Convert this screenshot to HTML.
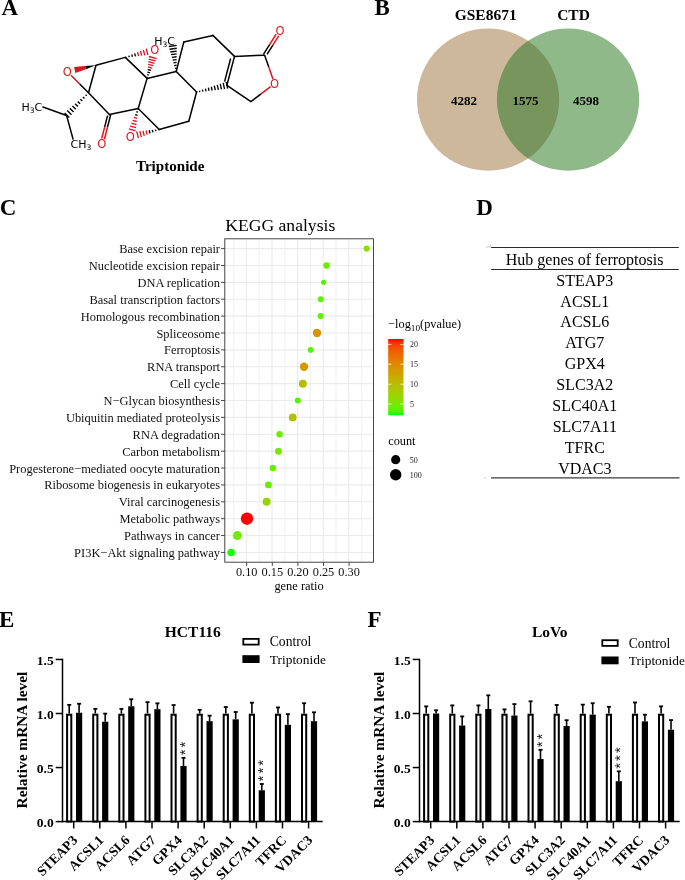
<!DOCTYPE html>
<html><head><meta charset="utf-8"><title>Triptonide ferroptosis figure</title>
<style>html,body{margin:0;padding:0;background:#fff;} svg{display:block;}</style></head>
<body><svg width="685" height="880" viewBox="0 0 685 880">
<rect width="685" height="880" fill="#fff"/>
<text x="1.50" y="15.30" font-size="23" font-weight="bold" text-anchor="start" font-family="'Liberation Serif', 'Times New Roman', serif" fill="#000" >A</text>
<text x="374.60" y="15.30" font-size="23" font-weight="bold" text-anchor="start" font-family="'Liberation Serif', 'Times New Roman', serif" fill="#000" >B</text>
<text x="-0.20" y="214.60" font-size="23" font-weight="bold" text-anchor="start" font-family="'Liberation Serif', 'Times New Roman', serif" fill="#000" >C</text>
<text x="476.30" y="214.60" font-size="23" font-weight="bold" text-anchor="start" font-family="'Liberation Serif', 'Times New Roman', serif" fill="#000" >D</text>
<text x="-0.90" y="626.90" font-size="23" font-weight="bold" text-anchor="start" font-family="'Liberation Serif', 'Times New Roman', serif" fill="#000" >E</text>
<text x="367.60" y="626.90" font-size="23" font-weight="bold" text-anchor="start" font-family="'Liberation Serif', 'Times New Roman', serif" fill="#000" >F</text>
<polygon points="96.00,65.20 85.01,66.08 85.71,69.15" fill="#000"/>
<polygon points="85.01,66.08 74.02,66.97 75.41,73.11 85.71,69.15" fill="#e0141e"/>
<line x1="96.00" y1="65.20" x2="88.50" y2="92.70" stroke="#000" stroke-width="1.5" />
<line x1="70.94" y1="75.23" x2="79.72" y2="83.96" stroke="#e0141e" stroke-width="1.5" stroke-linecap="butt"/>
<line x1="79.72" y1="83.96" x2="88.50" y2="92.70" stroke="#000" stroke-width="1.5" stroke-linecap="butt"/>
<line x1="88.79" y1="92.98" x2="88.21" y2="92.42" stroke="#000" stroke-width="1.35" />
<line x1="86.62" y1="95.69" x2="85.59" y2="94.70" stroke="#000" stroke-width="1.35" />
<line x1="84.46" y1="98.40" x2="82.97" y2="96.97" stroke="#000" stroke-width="1.35" />
<line x1="82.29" y1="101.11" x2="80.34" y2="99.24" stroke="#000" stroke-width="1.35" />
<line x1="80.12" y1="103.83" x2="77.72" y2="101.52" stroke="#000" stroke-width="1.35" />
<line x1="77.96" y1="106.54" x2="75.10" y2="103.79" stroke="#000" stroke-width="1.35" />
<line x1="75.79" y1="109.25" x2="72.47" y2="106.07" stroke="#000" stroke-width="1.35" />
<line x1="73.62" y1="111.97" x2="69.85" y2="108.34" stroke="#000" stroke-width="1.35" />
<line x1="71.46" y1="114.68" x2="67.23" y2="110.61" stroke="#000" stroke-width="1.35" />
<line x1="69.29" y1="117.39" x2="64.60" y2="112.89" stroke="#000" stroke-width="1.35" />
<line x1="66.60" y1="115.50" x2="42.94" y2="107.04" stroke="#000" stroke-width="1.5" stroke-linecap="round"/>
<line x1="66.60" y1="115.50" x2="73.05" y2="139.09" stroke="#000" stroke-width="1.5" stroke-linecap="round"/>
<line x1="88.50" y1="92.70" x2="109.40" y2="114.60" stroke="#000" stroke-width="1.5" stroke-linecap="round"/>
<line x1="109.40" y1="114.60" x2="138.20" y2="108.50" stroke="#000" stroke-width="1.5" stroke-linecap="round"/>
<line x1="110.66" y1="114.92" x2="107.54" y2="127.06" stroke="#000" stroke-width="1.5" stroke-linecap="butt"/>
<line x1="107.54" y1="127.06" x2="104.43" y2="139.20" stroke="#e0141e" stroke-width="1.5" stroke-linecap="butt"/>
<line x1="107.57" y1="115.68" x2="104.64" y2="127.09" stroke="#000" stroke-width="1.5" stroke-linecap="butt"/>
<line x1="104.64" y1="127.09" x2="101.71" y2="138.50" stroke="#e0141e" stroke-width="1.5" stroke-linecap="butt"/>
<line x1="96.00" y1="65.20" x2="125.30" y2="57.40" stroke="#000" stroke-width="1.5" stroke-linecap="round"/>
<line x1="125.97" y1="56.81" x2="126.17" y2="57.59" stroke="#000" stroke-width="1.35" />
<line x1="128.87" y1="55.65" x2="129.27" y2="57.21" stroke="#000" stroke-width="1.35" />
<line x1="131.77" y1="54.48" x2="132.37" y2="56.83" stroke="#000" stroke-width="1.35" />
<line x1="134.66" y1="53.31" x2="135.47" y2="56.45" stroke="#000" stroke-width="1.35" />
<line x1="137.56" y1="52.15" x2="138.57" y2="56.08" stroke="#e0141e" stroke-width="1.35" />
<line x1="140.45" y1="50.98" x2="141.67" y2="55.70" stroke="#e0141e" stroke-width="1.35" />
<line x1="143.35" y1="49.81" x2="144.77" y2="55.32" stroke="#e0141e" stroke-width="1.35" />
<line x1="146.24" y1="48.65" x2="147.86" y2="54.94" stroke="#e0141e" stroke-width="1.35" />
<line x1="125.30" y1="57.40" x2="147.10" y2="78.40" stroke="#000" stroke-width="1.5" stroke-linecap="round"/>
<line x1="146.97" y1="77.33" x2="147.75" y2="77.54" stroke="#000" stroke-width="1.35" />
<line x1="147.21" y1="74.72" x2="148.85" y2="75.17" stroke="#000" stroke-width="1.35" />
<line x1="147.44" y1="72.12" x2="149.96" y2="72.79" stroke="#000" stroke-width="1.35" />
<line x1="147.68" y1="69.51" x2="151.06" y2="70.42" stroke="#000" stroke-width="1.35" />
<line x1="147.92" y1="66.91" x2="152.16" y2="68.05" stroke="#e0141e" stroke-width="1.35" />
<line x1="148.15" y1="64.30" x2="153.27" y2="65.68" stroke="#e0141e" stroke-width="1.35" />
<line x1="148.39" y1="61.70" x2="154.37" y2="63.31" stroke="#e0141e" stroke-width="1.35" />
<line x1="148.62" y1="59.09" x2="155.48" y2="60.94" stroke="#e0141e" stroke-width="1.35" />
<line x1="148.86" y1="56.49" x2="156.58" y2="58.56" stroke="#e0141e" stroke-width="1.35" />
<line x1="147.10" y1="78.40" x2="176.20" y2="71.50" stroke="#000" stroke-width="1.5" stroke-linecap="round"/>
<line x1="147.10" y1="78.40" x2="138.20" y2="108.50" stroke="#000" stroke-width="1.5" stroke-linecap="round"/>
<line x1="175.74" y1="71.06" x2="176.53" y2="70.95" stroke="#000" stroke-width="1.35" />
<line x1="174.97" y1="68.33" x2="176.55" y2="68.12" stroke="#000" stroke-width="1.35" />
<line x1="174.20" y1="65.60" x2="176.57" y2="65.28" stroke="#000" stroke-width="1.35" />
<line x1="173.43" y1="62.88" x2="176.60" y2="62.45" stroke="#000" stroke-width="1.35" />
<line x1="172.65" y1="60.15" x2="176.62" y2="59.62" stroke="#000" stroke-width="1.35" />
<line x1="171.88" y1="57.42" x2="176.64" y2="56.78" stroke="#000" stroke-width="1.35" />
<line x1="171.11" y1="54.70" x2="176.66" y2="53.95" stroke="#000" stroke-width="1.35" />
<line x1="170.34" y1="51.97" x2="176.69" y2="51.12" stroke="#000" stroke-width="1.35" />
<line x1="169.57" y1="49.24" x2="176.71" y2="48.28" stroke="#000" stroke-width="1.35" />
<line x1="168.80" y1="46.52" x2="176.73" y2="45.45" stroke="#000" stroke-width="1.35" />
<line x1="176.20" y1="71.50" x2="183.80" y2="42.00" stroke="#000" stroke-width="1.5" stroke-linecap="round"/>
<line x1="176.20" y1="71.50" x2="196.60" y2="92.00" stroke="#000" stroke-width="1.5" stroke-linecap="round"/>
<line x1="183.80" y1="42.00" x2="212.90" y2="35.40" stroke="#000" stroke-width="1.5" stroke-linecap="round"/>
<line x1="212.90" y1="35.40" x2="234.50" y2="56.40" stroke="#000" stroke-width="1.5" stroke-linecap="round"/>
<line x1="234.50" y1="56.40" x2="226.90" y2="85.30" stroke="#000" stroke-width="1.5" stroke-linecap="round"/>
<line x1="230.64" y1="58.49" x2="224.57" y2="81.58" stroke="#000" stroke-width="1.5" />
<line x1="234.50" y1="56.40" x2="264.60" y2="55.20" stroke="#000" stroke-width="1.5" stroke-linecap="round"/>
<line x1="263.41" y1="54.45" x2="269.78" y2="44.32" stroke="#000" stroke-width="1.5" stroke-linecap="butt"/>
<line x1="269.78" y1="44.32" x2="276.15" y2="34.19" stroke="#e0141e" stroke-width="1.5" stroke-linecap="butt"/>
<line x1="267.02" y1="54.36" x2="272.86" y2="45.07" stroke="#000" stroke-width="1.5" stroke-linecap="butt"/>
<line x1="272.86" y1="45.07" x2="278.69" y2="35.78" stroke="#e0141e" stroke-width="1.5" stroke-linecap="butt"/>
<line x1="264.60" y1="55.20" x2="268.77" y2="67.04" stroke="#000" stroke-width="1.5" stroke-linecap="butt"/>
<line x1="268.77" y1="67.04" x2="272.94" y2="78.88" stroke="#e0141e" stroke-width="1.5" stroke-linecap="butt"/>
<line x1="270.62" y1="86.62" x2="260.76" y2="94.11" stroke="#e0141e" stroke-width="1.5" stroke-linecap="butt"/>
<line x1="260.76" y1="94.11" x2="250.90" y2="101.60" stroke="#000" stroke-width="1.5" stroke-linecap="butt"/>
<line x1="250.90" y1="101.60" x2="226.90" y2="85.30" stroke="#000" stroke-width="1.5" stroke-linecap="round"/>
<line x1="196.51" y1="91.61" x2="196.69" y2="92.39" stroke="#000" stroke-width="1.35" />
<line x1="199.48" y1="90.64" x2="199.78" y2="92.02" stroke="#000" stroke-width="1.35" />
<line x1="202.44" y1="89.66" x2="202.88" y2="91.66" stroke="#000" stroke-width="1.35" />
<line x1="205.40" y1="88.69" x2="205.98" y2="91.29" stroke="#000" stroke-width="1.35" />
<line x1="208.37" y1="87.72" x2="209.07" y2="90.92" stroke="#000" stroke-width="1.35" />
<line x1="211.33" y1="86.75" x2="212.17" y2="90.55" stroke="#000" stroke-width="1.35" />
<line x1="214.29" y1="85.77" x2="215.27" y2="90.19" stroke="#000" stroke-width="1.35" />
<line x1="217.26" y1="84.80" x2="218.36" y2="89.82" stroke="#000" stroke-width="1.35" />
<line x1="220.22" y1="83.83" x2="221.46" y2="89.45" stroke="#000" stroke-width="1.35" />
<line x1="223.18" y1="82.86" x2="224.56" y2="89.08" stroke="#000" stroke-width="1.35" />
<line x1="226.14" y1="81.88" x2="227.66" y2="88.72" stroke="#000" stroke-width="1.35" />
<line x1="196.60" y1="92.00" x2="188.80" y2="121.30" stroke="#000" stroke-width="1.5" stroke-linecap="round"/>
<line x1="188.80" y1="121.30" x2="159.20" y2="129.50" stroke="#000" stroke-width="1.5" stroke-linecap="round"/>
<line x1="159.20" y1="129.50" x2="138.20" y2="108.50" stroke="#000" stroke-width="1.5" stroke-linecap="round"/>
<line x1="138.45" y1="109.09" x2="137.68" y2="108.87" stroke="#000" stroke-width="1.35" />
<line x1="138.04" y1="112.19" x2="136.41" y2="111.74" stroke="#000" stroke-width="1.35" />
<line x1="137.63" y1="115.30" x2="135.15" y2="114.60" stroke="#000" stroke-width="1.35" />
<line x1="137.21" y1="118.40" x2="133.88" y2="117.46" stroke="#e0141e" stroke-width="1.35" />
<line x1="136.80" y1="121.50" x2="132.62" y2="120.33" stroke="#e0141e" stroke-width="1.35" />
<line x1="136.39" y1="124.60" x2="131.35" y2="123.19" stroke="#e0141e" stroke-width="1.35" />
<line x1="135.98" y1="127.71" x2="130.09" y2="126.05" stroke="#e0141e" stroke-width="1.35" />
<line x1="135.56" y1="130.81" x2="128.83" y2="128.91" stroke="#e0141e" stroke-width="1.35" />
<line x1="158.81" y1="130.01" x2="158.62" y2="129.23" stroke="#000" stroke-width="1.35" />
<line x1="155.90" y1="131.18" x2="155.49" y2="129.54" stroke="#000" stroke-width="1.35" />
<line x1="152.98" y1="132.35" x2="152.37" y2="129.85" stroke="#000" stroke-width="1.35" />
<line x1="150.07" y1="133.52" x2="149.25" y2="130.17" stroke="#000" stroke-width="1.35" />
<line x1="147.16" y1="134.69" x2="146.12" y2="130.48" stroke="#e0141e" stroke-width="1.35" />
<line x1="144.24" y1="135.87" x2="143.00" y2="130.79" stroke="#e0141e" stroke-width="1.35" />
<line x1="141.33" y1="137.04" x2="139.87" y2="131.10" stroke="#e0141e" stroke-width="1.35" />
<line x1="138.42" y1="138.21" x2="136.75" y2="131.41" stroke="#e0141e" stroke-width="1.35" />
<text x="67.40" y="75.60" font-size="11.5" font-weight="normal" text-anchor="middle" font-family="'DejaVu Sans', 'Liberation Sans', sans-serif" fill="#e0141e" >O</text>
<text x="154.80" y="53.70" font-size="11.5" font-weight="normal" text-anchor="middle" font-family="'DejaVu Sans', 'Liberation Sans', sans-serif" fill="#e0141e" >O</text>
<text x="130.30" y="140.50" font-size="11.5" font-weight="normal" text-anchor="middle" font-family="'DejaVu Sans', 'Liberation Sans', sans-serif" fill="#e0141e" >O</text>
<text x="101.80" y="148.10" font-size="11.5" font-weight="normal" text-anchor="middle" font-family="'DejaVu Sans', 'Liberation Sans', sans-serif" fill="#e0141e" >O</text>
<text x="280.00" y="34.60" font-size="11.5" font-weight="normal" text-anchor="middle" font-family="'DejaVu Sans', 'Liberation Sans', sans-serif" fill="#e0141e" >O</text>
<text x="274.60" y="87.50" font-size="11.5" font-weight="normal" text-anchor="middle" font-family="'DejaVu Sans', 'Liberation Sans', sans-serif" fill="#e0141e" >O</text>
<text x="42.30" y="110.50" font-size="11" font-weight="normal" text-anchor="end" font-family="'DejaVu Sans', 'Liberation Sans', sans-serif" fill="#000" >H<tspan font-size="7.5" dy="2">3</tspan><tspan dy="-2">C</tspan></text>
<text x="70.50" y="148.30" font-size="11" font-weight="normal" text-anchor="start" font-family="'DejaVu Sans', 'Liberation Sans', sans-serif" fill="#000" >CH<tspan font-size="7.5" dy="2">3</tspan></text>
<text x="175.00" y="44.70" font-size="11" font-weight="normal" text-anchor="end" font-family="'DejaVu Sans', 'Liberation Sans', sans-serif" fill="#000" >H<tspan font-size="7.5" dy="2">3</tspan><tspan dy="-2">C</tspan></text>
<text x="170.20" y="170.80" font-size="15.1" font-weight="bold" text-anchor="middle" font-family="'Liberation Serif', 'Times New Roman', serif" fill="#000" >Triptonide</text>
<defs><clipPath id="vl"><circle cx="488.1" cy="99.6" r="71.1"/></clipPath><linearGradient id="cg" x1="0" y1="1" x2="0" y2="0"><stop offset="0.000" stop-color="#00ff00"/><stop offset="0.050" stop-color="#49f700"/><stop offset="0.100" stop-color="#65ef00"/><stop offset="0.150" stop-color="#7ae700"/><stop offset="0.200" stop-color="#8adf00"/><stop offset="0.250" stop-color="#98d700"/><stop offset="0.300" stop-color="#a4ce00"/><stop offset="0.350" stop-color="#aec600"/><stop offset="0.400" stop-color="#b8bd00"/><stop offset="0.450" stop-color="#c1b400"/><stop offset="0.500" stop-color="#c9ab00"/><stop offset="0.550" stop-color="#d0a100"/><stop offset="0.600" stop-color="#d79800"/><stop offset="0.650" stop-color="#dd8d00"/><stop offset="0.700" stop-color="#e38200"/><stop offset="0.750" stop-color="#e87600"/><stop offset="0.800" stop-color="#ed6a00"/><stop offset="0.850" stop-color="#f25b00"/><stop offset="0.900" stop-color="#f74a00"/><stop offset="0.950" stop-color="#fb3300"/><stop offset="1.000" stop-color="#ff0000"/></linearGradient></defs>
<circle cx="488.1" cy="99.6" r="71.1" fill="#cdb89c"/>
<circle cx="568.1" cy="99.6" r="71.1" fill="#8fb988"/>
<circle cx="568.1" cy="99.6" r="71.1" fill="#78955d" clip-path="url(#vl)"/>
<text x="485.70" y="20.20" font-size="15.5" font-weight="bold" text-anchor="middle" font-family="'Liberation Serif', 'Times New Roman', serif" fill="#000" >GSE8671</text>
<text x="573.50" y="20.10" font-size="15.5" font-weight="bold" text-anchor="middle" font-family="'Liberation Serif', 'Times New Roman', serif" fill="#000" >CTD</text>
<text x="463.90" y="104.80" font-size="13" font-weight="bold" text-anchor="middle" font-family="'Liberation Serif', 'Times New Roman', serif" fill="#000" >4282</text>
<text x="525.40" y="104.80" font-size="13" font-weight="bold" text-anchor="middle" font-family="'Liberation Serif', 'Times New Roman', serif" fill="#000" >1575</text>
<text x="586.00" y="104.80" font-size="13" font-weight="bold" text-anchor="middle" font-family="'Liberation Serif', 'Times New Roman', serif" fill="#000" >4598</text>
<rect x="224.8" y="238.8" width="148.7" height="323.40000000000003" fill="#fff"/>
<line x1="233.60" y1="238.80" x2="233.60" y2="562.20" stroke="#ebebeb" stroke-width="0.8" />
<line x1="246.40" y1="238.80" x2="246.40" y2="562.20" stroke="#ebebeb" stroke-width="1.1" />
<line x1="259.20" y1="238.80" x2="259.20" y2="562.20" stroke="#ebebeb" stroke-width="0.8" />
<line x1="272.00" y1="238.80" x2="272.00" y2="562.20" stroke="#ebebeb" stroke-width="1.1" />
<line x1="284.80" y1="238.80" x2="284.80" y2="562.20" stroke="#ebebeb" stroke-width="0.8" />
<line x1="297.60" y1="238.80" x2="297.60" y2="562.20" stroke="#ebebeb" stroke-width="1.1" />
<line x1="310.40" y1="238.80" x2="310.40" y2="562.20" stroke="#ebebeb" stroke-width="0.8" />
<line x1="323.20" y1="238.80" x2="323.20" y2="562.20" stroke="#ebebeb" stroke-width="1.1" />
<line x1="336.00" y1="238.80" x2="336.00" y2="562.20" stroke="#ebebeb" stroke-width="0.8" />
<line x1="348.80" y1="238.80" x2="348.80" y2="562.20" stroke="#ebebeb" stroke-width="1.1" />
<line x1="361.60" y1="238.80" x2="361.60" y2="562.20" stroke="#ebebeb" stroke-width="0.8" />
<line x1="224.80" y1="248.60" x2="373.50" y2="248.60" stroke="#ebebeb" stroke-width="1.1" />
<line x1="224.80" y1="265.48" x2="373.50" y2="265.48" stroke="#ebebeb" stroke-width="1.1" />
<line x1="224.80" y1="282.36" x2="373.50" y2="282.36" stroke="#ebebeb" stroke-width="1.1" />
<line x1="224.80" y1="299.24" x2="373.50" y2="299.24" stroke="#ebebeb" stroke-width="1.1" />
<line x1="224.80" y1="316.12" x2="373.50" y2="316.12" stroke="#ebebeb" stroke-width="1.1" />
<line x1="224.80" y1="333.00" x2="373.50" y2="333.00" stroke="#ebebeb" stroke-width="1.1" />
<line x1="224.80" y1="349.88" x2="373.50" y2="349.88" stroke="#ebebeb" stroke-width="1.1" />
<line x1="224.80" y1="366.76" x2="373.50" y2="366.76" stroke="#ebebeb" stroke-width="1.1" />
<line x1="224.80" y1="383.64" x2="373.50" y2="383.64" stroke="#ebebeb" stroke-width="1.1" />
<line x1="224.80" y1="400.52" x2="373.50" y2="400.52" stroke="#ebebeb" stroke-width="1.1" />
<line x1="224.80" y1="417.40" x2="373.50" y2="417.40" stroke="#ebebeb" stroke-width="1.1" />
<line x1="224.80" y1="434.28" x2="373.50" y2="434.28" stroke="#ebebeb" stroke-width="1.1" />
<line x1="224.80" y1="451.16" x2="373.50" y2="451.16" stroke="#ebebeb" stroke-width="1.1" />
<line x1="224.80" y1="468.04" x2="373.50" y2="468.04" stroke="#ebebeb" stroke-width="1.1" />
<line x1="224.80" y1="484.92" x2="373.50" y2="484.92" stroke="#ebebeb" stroke-width="1.1" />
<line x1="224.80" y1="501.80" x2="373.50" y2="501.80" stroke="#ebebeb" stroke-width="1.1" />
<line x1="224.80" y1="518.68" x2="373.50" y2="518.68" stroke="#ebebeb" stroke-width="1.1" />
<line x1="224.80" y1="535.56" x2="373.50" y2="535.56" stroke="#ebebeb" stroke-width="1.1" />
<line x1="224.80" y1="552.44" x2="373.50" y2="552.44" stroke="#ebebeb" stroke-width="1.1" />
<rect x="224.8" y="238.8" width="148.7" height="323.40000000000003" fill="none" stroke="#333" stroke-width="0.9"/>
<line x1="221.00" y1="248.60" x2="224.80" y2="248.60" stroke="#333" stroke-width="0.9" />
<text x="220.00" y="253.10" font-size="12.45" font-weight="normal" text-anchor="end" font-family="'Liberation Serif', 'Times New Roman', serif" fill="#111" >Base excision repair</text>
<line x1="221.00" y1="265.48" x2="224.80" y2="265.48" stroke="#333" stroke-width="0.9" />
<text x="220.00" y="269.98" font-size="12.45" font-weight="normal" text-anchor="end" font-family="'Liberation Serif', 'Times New Roman', serif" fill="#111" >Nucleotide excision repair</text>
<line x1="221.00" y1="282.36" x2="224.80" y2="282.36" stroke="#333" stroke-width="0.9" />
<text x="220.00" y="286.86" font-size="12.45" font-weight="normal" text-anchor="end" font-family="'Liberation Serif', 'Times New Roman', serif" fill="#111" >DNA replication</text>
<line x1="221.00" y1="299.24" x2="224.80" y2="299.24" stroke="#333" stroke-width="0.9" />
<text x="220.00" y="303.74" font-size="12.45" font-weight="normal" text-anchor="end" font-family="'Liberation Serif', 'Times New Roman', serif" fill="#111" >Basal transcription factors</text>
<line x1="221.00" y1="316.12" x2="224.80" y2="316.12" stroke="#333" stroke-width="0.9" />
<text x="220.00" y="320.62" font-size="12.45" font-weight="normal" text-anchor="end" font-family="'Liberation Serif', 'Times New Roman', serif" fill="#111" >Homologous recombination</text>
<line x1="221.00" y1="333.00" x2="224.80" y2="333.00" stroke="#333" stroke-width="0.9" />
<text x="220.00" y="337.50" font-size="12.45" font-weight="normal" text-anchor="end" font-family="'Liberation Serif', 'Times New Roman', serif" fill="#111" >Spliceosome</text>
<line x1="221.00" y1="349.88" x2="224.80" y2="349.88" stroke="#333" stroke-width="0.9" />
<text x="220.00" y="354.38" font-size="12.45" font-weight="normal" text-anchor="end" font-family="'Liberation Serif', 'Times New Roman', serif" fill="#111" >Ferroptosis</text>
<line x1="221.00" y1="366.76" x2="224.80" y2="366.76" stroke="#333" stroke-width="0.9" />
<text x="220.00" y="371.26" font-size="12.45" font-weight="normal" text-anchor="end" font-family="'Liberation Serif', 'Times New Roman', serif" fill="#111" >RNA transport</text>
<line x1="221.00" y1="383.64" x2="224.80" y2="383.64" stroke="#333" stroke-width="0.9" />
<text x="220.00" y="388.14" font-size="12.45" font-weight="normal" text-anchor="end" font-family="'Liberation Serif', 'Times New Roman', serif" fill="#111" >Cell cycle</text>
<line x1="221.00" y1="400.52" x2="224.80" y2="400.52" stroke="#333" stroke-width="0.9" />
<text x="220.00" y="405.02" font-size="12.45" font-weight="normal" text-anchor="end" font-family="'Liberation Serif', 'Times New Roman', serif" fill="#111" >N−Glycan biosynthesis</text>
<line x1="221.00" y1="417.40" x2="224.80" y2="417.40" stroke="#333" stroke-width="0.9" />
<text x="220.00" y="421.90" font-size="12.45" font-weight="normal" text-anchor="end" font-family="'Liberation Serif', 'Times New Roman', serif" fill="#111" >Ubiquitin mediated proteolysis</text>
<line x1="221.00" y1="434.28" x2="224.80" y2="434.28" stroke="#333" stroke-width="0.9" />
<text x="220.00" y="438.78" font-size="12.45" font-weight="normal" text-anchor="end" font-family="'Liberation Serif', 'Times New Roman', serif" fill="#111" >RNA degradation</text>
<line x1="221.00" y1="451.16" x2="224.80" y2="451.16" stroke="#333" stroke-width="0.9" />
<text x="220.00" y="455.66" font-size="12.45" font-weight="normal" text-anchor="end" font-family="'Liberation Serif', 'Times New Roman', serif" fill="#111" >Carbon metabolism</text>
<line x1="221.00" y1="468.04" x2="224.80" y2="468.04" stroke="#333" stroke-width="0.9" />
<text x="220.00" y="472.54" font-size="12.45" font-weight="normal" text-anchor="end" font-family="'Liberation Serif', 'Times New Roman', serif" fill="#111" >Progesterone−mediated oocyte maturation</text>
<line x1="221.00" y1="484.92" x2="224.80" y2="484.92" stroke="#333" stroke-width="0.9" />
<text x="220.00" y="489.42" font-size="12.45" font-weight="normal" text-anchor="end" font-family="'Liberation Serif', 'Times New Roman', serif" fill="#111" >Ribosome biogenesis in eukaryotes</text>
<line x1="221.00" y1="501.80" x2="224.80" y2="501.80" stroke="#333" stroke-width="0.9" />
<text x="220.00" y="506.30" font-size="12.45" font-weight="normal" text-anchor="end" font-family="'Liberation Serif', 'Times New Roman', serif" fill="#111" >Viral carcinogenesis</text>
<line x1="221.00" y1="518.68" x2="224.80" y2="518.68" stroke="#333" stroke-width="0.9" />
<text x="220.00" y="523.18" font-size="12.45" font-weight="normal" text-anchor="end" font-family="'Liberation Serif', 'Times New Roman', serif" fill="#111" >Metabolic pathways</text>
<line x1="221.00" y1="535.56" x2="224.80" y2="535.56" stroke="#333" stroke-width="0.9" />
<text x="220.00" y="540.06" font-size="12.45" font-weight="normal" text-anchor="end" font-family="'Liberation Serif', 'Times New Roman', serif" fill="#111" >Pathways in cancer</text>
<line x1="221.00" y1="552.44" x2="224.80" y2="552.44" stroke="#333" stroke-width="0.9" />
<text x="220.00" y="556.94" font-size="12.45" font-weight="normal" text-anchor="end" font-family="'Liberation Serif', 'Times New Roman', serif" fill="#111" >PI3K−Akt signaling pathway</text>
<circle cx="366.7" cy="248.60" r="3.1" fill="#8adf00"/>
<circle cx="326.6" cy="265.48" r="3.3" fill="#6fec00"/>
<circle cx="323.6" cy="282.36" r="2.6" fill="#56f400"/>
<circle cx="320.8" cy="299.24" r="3.0" fill="#5ef100"/>
<circle cx="320.6" cy="316.12" r="3.0" fill="#56f400"/>
<circle cx="317.0" cy="333.00" r="4.2" fill="#d99400"/>
<circle cx="310.6" cy="349.88" r="2.8" fill="#50f600"/>
<circle cx="304.0" cy="366.76" r="4.2" fill="#d59900"/>
<circle cx="302.9" cy="383.64" r="4.0" fill="#b9bc00"/>
<circle cx="297.8" cy="400.52" r="3.0" fill="#50f600"/>
<circle cx="292.7" cy="417.40" r="3.9" fill="#b5c000"/>
<circle cx="279.6" cy="434.28" r="3.2" fill="#6bed00"/>
<circle cx="278.5" cy="451.16" r="3.5" fill="#79e700"/>
<circle cx="272.9" cy="468.04" r="3.2" fill="#64f000"/>
<circle cx="268.4" cy="484.92" r="3.4" fill="#64f000"/>
<circle cx="266.6" cy="501.80" r="4.0" fill="#98d600"/>
<circle cx="247.0" cy="518.68" r="6.2" fill="#ff0000"/>
<circle cx="237.4" cy="535.56" r="4.5" fill="#73ea00"/>
<circle cx="231.1" cy="552.44" r="3.8" fill="#1afe00"/>
<line x1="246.70" y1="562.20" x2="246.70" y2="566.00" stroke="#333" stroke-width="0.9" />
<text x="246.70" y="575.60" font-size="12.3" font-weight="normal" text-anchor="middle" font-family="'Liberation Serif', 'Times New Roman', serif" fill="#111" >0.10</text>
<line x1="272.30" y1="562.20" x2="272.30" y2="566.00" stroke="#333" stroke-width="0.9" />
<text x="272.30" y="575.60" font-size="12.3" font-weight="normal" text-anchor="middle" font-family="'Liberation Serif', 'Times New Roman', serif" fill="#111" >0.15</text>
<line x1="297.90" y1="562.20" x2="297.90" y2="566.00" stroke="#333" stroke-width="0.9" />
<text x="297.90" y="575.60" font-size="12.3" font-weight="normal" text-anchor="middle" font-family="'Liberation Serif', 'Times New Roman', serif" fill="#111" >0.20</text>
<line x1="323.50" y1="562.20" x2="323.50" y2="566.00" stroke="#333" stroke-width="0.9" />
<text x="323.50" y="575.60" font-size="12.3" font-weight="normal" text-anchor="middle" font-family="'Liberation Serif', 'Times New Roman', serif" fill="#111" >0.25</text>
<line x1="349.10" y1="562.20" x2="349.10" y2="566.00" stroke="#333" stroke-width="0.9" />
<text x="349.10" y="575.60" font-size="12.3" font-weight="normal" text-anchor="middle" font-family="'Liberation Serif', 'Times New Roman', serif" fill="#111" >0.30</text>
<text x="299.00" y="589.60" font-size="12.4" font-weight="normal" text-anchor="middle" font-family="'Liberation Serif', 'Times New Roman', serif" fill="#000" >gene ratio</text>
<text x="225.30" y="230.70" font-size="17.6" font-weight="normal" text-anchor="start" font-family="'Liberation Serif', 'Times New Roman', serif" fill="#000" >KEGG analysis</text>
<text x="388.20" y="328.40" font-size="12.3" font-weight="normal" text-anchor="start" font-family="'Liberation Serif', 'Times New Roman', serif" fill="#000" >−log<tspan font-size="9.2" dy="2.6">10</tspan><tspan dy="-2.6">(pvalue)</tspan></text>
<rect x="388.2" y="339" width="15.3" height="76.3" fill="url(#cg)"/>
<line x1="388.20" y1="344.40" x2="391.30" y2="344.40" stroke="#fff" stroke-width="0.8" />
<line x1="400.40" y1="344.40" x2="403.50" y2="344.40" stroke="#fff" stroke-width="0.8" />
<text x="410.00" y="347.20" font-size="8" font-weight="normal" text-anchor="start" font-family="'Liberation Serif', 'Times New Roman', serif" fill="#1a1a1a" >20</text>
<line x1="388.20" y1="364.20" x2="391.30" y2="364.20" stroke="#fff" stroke-width="0.8" />
<line x1="400.40" y1="364.20" x2="403.50" y2="364.20" stroke="#fff" stroke-width="0.8" />
<text x="410.00" y="367.00" font-size="8" font-weight="normal" text-anchor="start" font-family="'Liberation Serif', 'Times New Roman', serif" fill="#1a1a1a" >15</text>
<line x1="388.20" y1="384.20" x2="391.30" y2="384.20" stroke="#fff" stroke-width="0.8" />
<line x1="400.40" y1="384.20" x2="403.50" y2="384.20" stroke="#fff" stroke-width="0.8" />
<text x="410.00" y="387.00" font-size="8" font-weight="normal" text-anchor="start" font-family="'Liberation Serif', 'Times New Roman', serif" fill="#1a1a1a" >10</text>
<line x1="388.20" y1="404.00" x2="391.30" y2="404.00" stroke="#fff" stroke-width="0.8" />
<line x1="400.40" y1="404.00" x2="403.50" y2="404.00" stroke="#fff" stroke-width="0.8" />
<text x="410.00" y="406.80" font-size="8" font-weight="normal" text-anchor="start" font-family="'Liberation Serif', 'Times New Roman', serif" fill="#1a1a1a" >5</text>
<text x="388.20" y="444.80" font-size="12.3" font-weight="normal" text-anchor="start" font-family="'Liberation Serif', 'Times New Roman', serif" fill="#000" >count</text>
<circle cx="395.7" cy="459.7" r="4.6" fill="#000"/>
<circle cx="395.7" cy="474.8" r="5.7" fill="#000"/>
<text x="409.70" y="462.50" font-size="8" font-weight="normal" text-anchor="start" font-family="'Liberation Serif', 'Times New Roman', serif" fill="#1a1a1a" >50</text>
<text x="409.70" y="477.60" font-size="8" font-weight="normal" text-anchor="start" font-family="'Liberation Serif', 'Times New Roman', serif" fill="#1a1a1a" >100</text>
<line x1="491.10" y1="247.50" x2="678.80" y2="247.50" stroke="#2a2a2a" stroke-width="1.0" />
<line x1="486.00" y1="246.90" x2="490.40" y2="246.90" stroke="#b0b0b0" stroke-width="0.7" />
<line x1="490.30" y1="244.60" x2="490.30" y2="247.20" stroke="#b0b0b0" stroke-width="0.7" />
<text x="584.60" y="265.30" font-size="16" font-weight="normal" text-anchor="middle" font-family="'Liberation Serif', 'Times New Roman', serif" fill="#000" >Hub genes of ferroptosis</text>
<line x1="491.10" y1="269.50" x2="678.80" y2="269.50" stroke="#2a2a2a" stroke-width="1.0" />
<text x="584.80" y="285.70" font-size="16" font-weight="normal" text-anchor="middle" font-family="'Liberation Serif', 'Times New Roman', serif" fill="#000" >STEAP3</text>
<text x="584.80" y="306.57" font-size="16" font-weight="normal" text-anchor="middle" font-family="'Liberation Serif', 'Times New Roman', serif" fill="#000" >ACSL1</text>
<text x="584.80" y="327.44" font-size="16" font-weight="normal" text-anchor="middle" font-family="'Liberation Serif', 'Times New Roman', serif" fill="#000" >ACSL6</text>
<text x="584.80" y="348.31" font-size="16" font-weight="normal" text-anchor="middle" font-family="'Liberation Serif', 'Times New Roman', serif" fill="#000" >ATG7</text>
<text x="584.80" y="369.18" font-size="16" font-weight="normal" text-anchor="middle" font-family="'Liberation Serif', 'Times New Roman', serif" fill="#000" >GPX4</text>
<text x="584.80" y="390.05" font-size="16" font-weight="normal" text-anchor="middle" font-family="'Liberation Serif', 'Times New Roman', serif" fill="#000" >SLC3A2</text>
<text x="584.80" y="410.92" font-size="16" font-weight="normal" text-anchor="middle" font-family="'Liberation Serif', 'Times New Roman', serif" fill="#000" >SLC40A1</text>
<text x="584.80" y="431.79" font-size="16" font-weight="normal" text-anchor="middle" font-family="'Liberation Serif', 'Times New Roman', serif" fill="#000" >SLC7A11</text>
<text x="584.80" y="452.66" font-size="16" font-weight="normal" text-anchor="middle" font-family="'Liberation Serif', 'Times New Roman', serif" fill="#000" >TFRC</text>
<text x="584.80" y="473.53" font-size="16" font-weight="normal" text-anchor="middle" font-family="'Liberation Serif', 'Times New Roman', serif" fill="#000" >VDAC3</text>
<line x1="491.10" y1="477.90" x2="679.50" y2="477.90" stroke="#3a3a3a" stroke-width="1.3" />
<rect x="484.3" y="477.2" width="1.4" height="1.4" fill="#c8c8c8"/>
<line x1="62.50" y1="658.75" x2="62.50" y2="822.30" stroke="#000" stroke-width="1.5" />
<line x1="55.70" y1="821.60" x2="62.50" y2="821.60" stroke="#000" stroke-width="1.5" />
<text x="53.70" y="826.80" font-size="13.5" font-weight="bold" text-anchor="end" font-family="'Liberation Serif', 'Times New Roman', serif" fill="#000" >0.0</text>
<line x1="55.70" y1="767.55" x2="62.50" y2="767.55" stroke="#000" stroke-width="1.5" />
<text x="53.70" y="772.75" font-size="13.5" font-weight="bold" text-anchor="end" font-family="'Liberation Serif', 'Times New Roman', serif" fill="#000" >0.5</text>
<line x1="55.70" y1="713.50" x2="62.50" y2="713.50" stroke="#000" stroke-width="1.5" />
<text x="53.70" y="718.70" font-size="13.5" font-weight="bold" text-anchor="end" font-family="'Liberation Serif', 'Times New Roman', serif" fill="#000" >1.0</text>
<line x1="55.70" y1="659.45" x2="62.50" y2="659.45" stroke="#000" stroke-width="1.5" />
<text x="53.70" y="664.65" font-size="13.5" font-weight="bold" text-anchor="end" font-family="'Liberation Serif', 'Times New Roman', serif" fill="#000" >1.5</text>
<text x="0.00" y="0.00" font-size="15.4" font-weight="bold" text-anchor="middle" font-family="'Liberation Serif', 'Times New Roman', serif" fill="#000" transform="translate(27.40,740.00) rotate(-90)">Relative mRNA level</text>
<line x1="69.20" y1="704.85" x2="69.20" y2="713.50" stroke="#000" stroke-width="1.6" />
<line x1="67.20" y1="704.85" x2="71.20" y2="704.85" stroke="#000" stroke-width="1.8" />
<rect x="67.10" y="714.70" width="4.20" height="106.90" fill="#fff" stroke="#000" stroke-width="2.0"/>
<line x1="79.10" y1="703.77" x2="79.10" y2="712.74" stroke="#000" stroke-width="1.6" />
<line x1="77.10" y1="703.77" x2="81.10" y2="703.77" stroke="#000" stroke-width="1.8" />
<rect x="76.00" y="712.74" width="6.20" height="108.86" fill="#000"/>
<line x1="73.70" y1="821.60" x2="73.70" y2="828.40" stroke="#000" stroke-width="1.5" />
<line x1="95.30" y1="708.85" x2="95.30" y2="713.50" stroke="#000" stroke-width="1.6" />
<line x1="93.30" y1="708.85" x2="97.30" y2="708.85" stroke="#000" stroke-width="1.8" />
<rect x="93.20" y="714.70" width="4.20" height="106.90" fill="#fff" stroke="#000" stroke-width="2.0"/>
<line x1="105.20" y1="713.61" x2="105.20" y2="721.72" stroke="#000" stroke-width="1.6" />
<line x1="103.20" y1="713.61" x2="107.20" y2="713.61" stroke="#000" stroke-width="1.8" />
<rect x="102.10" y="721.72" width="6.20" height="99.88" fill="#000"/>
<line x1="99.80" y1="821.60" x2="99.80" y2="828.40" stroke="#000" stroke-width="1.5" />
<line x1="121.40" y1="708.85" x2="121.40" y2="713.50" stroke="#000" stroke-width="1.6" />
<line x1="119.40" y1="708.85" x2="123.40" y2="708.85" stroke="#000" stroke-width="1.8" />
<rect x="119.30" y="714.70" width="4.20" height="106.90" fill="#fff" stroke="#000" stroke-width="2.0"/>
<line x1="131.30" y1="699.23" x2="131.30" y2="706.26" stroke="#000" stroke-width="1.6" />
<line x1="129.30" y1="699.23" x2="133.30" y2="699.23" stroke="#000" stroke-width="1.8" />
<rect x="128.20" y="706.26" width="6.20" height="115.34" fill="#000"/>
<line x1="125.90" y1="821.60" x2="125.90" y2="828.40" stroke="#000" stroke-width="1.5" />
<line x1="147.50" y1="702.15" x2="147.50" y2="713.50" stroke="#000" stroke-width="1.6" />
<line x1="145.50" y1="702.15" x2="149.50" y2="702.15" stroke="#000" stroke-width="1.8" />
<rect x="145.40" y="714.70" width="4.20" height="106.90" fill="#fff" stroke="#000" stroke-width="2.0"/>
<line x1="157.40" y1="703.34" x2="157.40" y2="709.18" stroke="#000" stroke-width="1.6" />
<line x1="155.40" y1="703.34" x2="159.40" y2="703.34" stroke="#000" stroke-width="1.8" />
<rect x="154.30" y="709.18" width="6.20" height="112.42" fill="#000"/>
<line x1="152.00" y1="821.60" x2="152.00" y2="828.40" stroke="#000" stroke-width="1.5" />
<line x1="173.60" y1="705.07" x2="173.60" y2="713.50" stroke="#000" stroke-width="1.6" />
<line x1="171.60" y1="705.07" x2="175.60" y2="705.07" stroke="#000" stroke-width="1.8" />
<rect x="171.50" y="714.70" width="4.20" height="106.90" fill="#fff" stroke="#000" stroke-width="2.0"/>
<line x1="183.50" y1="757.82" x2="183.50" y2="765.93" stroke="#000" stroke-width="1.6" />
<line x1="181.50" y1="757.82" x2="185.50" y2="757.82" stroke="#000" stroke-width="1.8" />
<rect x="180.40" y="765.93" width="6.20" height="55.67" fill="#000"/>
<line x1="178.10" y1="821.60" x2="178.10" y2="828.40" stroke="#000" stroke-width="1.5" />
<line x1="199.70" y1="709.82" x2="199.70" y2="713.50" stroke="#000" stroke-width="1.6" />
<line x1="197.70" y1="709.82" x2="201.70" y2="709.82" stroke="#000" stroke-width="1.8" />
<rect x="197.60" y="714.70" width="4.20" height="106.90" fill="#fff" stroke="#000" stroke-width="2.0"/>
<line x1="209.60" y1="715.66" x2="209.60" y2="721.18" stroke="#000" stroke-width="1.6" />
<line x1="207.60" y1="715.66" x2="211.60" y2="715.66" stroke="#000" stroke-width="1.8" />
<rect x="206.50" y="721.18" width="6.20" height="100.42" fill="#000"/>
<line x1="204.20" y1="821.60" x2="204.20" y2="828.40" stroke="#000" stroke-width="1.5" />
<line x1="225.80" y1="707.01" x2="225.80" y2="713.50" stroke="#000" stroke-width="1.6" />
<line x1="223.80" y1="707.01" x2="227.80" y2="707.01" stroke="#000" stroke-width="1.8" />
<rect x="223.70" y="714.70" width="4.20" height="106.90" fill="#fff" stroke="#000" stroke-width="2.0"/>
<line x1="235.70" y1="711.99" x2="235.70" y2="719.34" stroke="#000" stroke-width="1.6" />
<line x1="233.70" y1="711.99" x2="237.70" y2="711.99" stroke="#000" stroke-width="1.8" />
<rect x="232.60" y="719.34" width="6.20" height="102.26" fill="#000"/>
<line x1="230.30" y1="821.60" x2="230.30" y2="828.40" stroke="#000" stroke-width="1.5" />
<line x1="251.90" y1="702.69" x2="251.90" y2="713.50" stroke="#000" stroke-width="1.6" />
<line x1="249.90" y1="702.69" x2="253.90" y2="702.69" stroke="#000" stroke-width="1.8" />
<rect x="249.80" y="714.70" width="4.20" height="106.90" fill="#fff" stroke="#000" stroke-width="2.0"/>
<line x1="261.80" y1="783.98" x2="261.80" y2="790.25" stroke="#000" stroke-width="1.6" />
<line x1="259.80" y1="783.98" x2="263.80" y2="783.98" stroke="#000" stroke-width="1.8" />
<rect x="258.70" y="790.25" width="6.20" height="31.35" fill="#000"/>
<line x1="256.40" y1="821.60" x2="256.40" y2="828.40" stroke="#000" stroke-width="1.5" />
<line x1="278.00" y1="707.45" x2="278.00" y2="713.50" stroke="#000" stroke-width="1.6" />
<line x1="276.00" y1="707.45" x2="280.00" y2="707.45" stroke="#000" stroke-width="1.8" />
<rect x="275.90" y="714.70" width="4.20" height="106.90" fill="#fff" stroke="#000" stroke-width="2.0"/>
<line x1="287.90" y1="714.15" x2="287.90" y2="724.85" stroke="#000" stroke-width="1.6" />
<line x1="285.90" y1="714.15" x2="289.90" y2="714.15" stroke="#000" stroke-width="1.8" />
<rect x="284.80" y="724.85" width="6.20" height="96.75" fill="#000"/>
<line x1="282.50" y1="821.60" x2="282.50" y2="828.40" stroke="#000" stroke-width="1.5" />
<line x1="304.10" y1="703.23" x2="304.10" y2="713.50" stroke="#000" stroke-width="1.6" />
<line x1="302.10" y1="703.23" x2="306.10" y2="703.23" stroke="#000" stroke-width="1.8" />
<rect x="302.00" y="714.70" width="4.20" height="106.90" fill="#fff" stroke="#000" stroke-width="2.0"/>
<line x1="314.00" y1="712.31" x2="314.00" y2="721.18" stroke="#000" stroke-width="1.6" />
<line x1="312.00" y1="712.31" x2="316.00" y2="712.31" stroke="#000" stroke-width="1.8" />
<rect x="310.90" y="721.18" width="6.20" height="100.42" fill="#000"/>
<line x1="308.60" y1="821.60" x2="308.60" y2="828.40" stroke="#000" stroke-width="1.5" />
<line x1="61.80" y1="821.60" x2="322.70" y2="821.60" stroke="#000" stroke-width="1.5" />
<text x="0.00" y="0.00" font-size="13.6" font-weight="bold" text-anchor="end" font-family="'Liberation Serif', 'Times New Roman', serif" fill="#000" transform="translate(78.30,841.00) rotate(-45)">STEAP3</text>
<text x="0.00" y="0.00" font-size="13.6" font-weight="bold" text-anchor="end" font-family="'Liberation Serif', 'Times New Roman', serif" fill="#000" transform="translate(104.40,841.00) rotate(-45)">ACSL1</text>
<text x="0.00" y="0.00" font-size="13.6" font-weight="bold" text-anchor="end" font-family="'Liberation Serif', 'Times New Roman', serif" fill="#000" transform="translate(130.50,841.00) rotate(-45)">ACSL6</text>
<text x="0.00" y="0.00" font-size="13.6" font-weight="bold" text-anchor="end" font-family="'Liberation Serif', 'Times New Roman', serif" fill="#000" transform="translate(156.60,841.00) rotate(-45)">ATG7</text>
<text x="0.00" y="0.00" font-size="13.6" font-weight="bold" text-anchor="end" font-family="'Liberation Serif', 'Times New Roman', serif" fill="#000" transform="translate(182.70,841.00) rotate(-45)">GPX4</text>
<text x="0.00" y="0.00" font-size="13.6" font-weight="bold" text-anchor="end" font-family="'Liberation Serif', 'Times New Roman', serif" fill="#000" transform="translate(208.80,841.00) rotate(-45)">SLC3A2</text>
<text x="0.00" y="0.00" font-size="13.6" font-weight="bold" text-anchor="end" font-family="'Liberation Serif', 'Times New Roman', serif" fill="#000" transform="translate(234.90,841.00) rotate(-45)">SLC40A1</text>
<text x="0.00" y="0.00" font-size="13.6" font-weight="bold" text-anchor="end" font-family="'Liberation Serif', 'Times New Roman', serif" fill="#000" transform="translate(261.00,841.00) rotate(-45)">SLC7A11</text>
<text x="0.00" y="0.00" font-size="13.6" font-weight="bold" text-anchor="end" font-family="'Liberation Serif', 'Times New Roman', serif" fill="#000" transform="translate(287.10,841.00) rotate(-45)">TFRC</text>
<text x="0.00" y="0.00" font-size="13.6" font-weight="bold" text-anchor="end" font-family="'Liberation Serif', 'Times New Roman', serif" fill="#000" transform="translate(313.20,841.00) rotate(-45)">VDAC3</text>
<text x="0.00" y="0.00" font-size="15" font-weight="normal" text-anchor="start" font-family="'Liberation Sans', Arial, sans-serif" fill="#1a1a1a" letter-spacing="2.05" transform="translate(190.10,755.32) rotate(-90)">**</text>
<text x="0.00" y="0.00" font-size="15" font-weight="normal" text-anchor="start" font-family="'Liberation Sans', Arial, sans-serif" fill="#1a1a1a" letter-spacing="2.05" transform="translate(268.40,781.48) rotate(-90)">***</text>
<text x="192.80" y="636.70" font-size="15.5" font-weight="bold" text-anchor="middle" font-family="'Liberation Serif', 'Times New Roman', serif" fill="#000" >HCT116</text>
<rect x="243.30" y="638.90" width="15.4" height="5.7" fill="#fff" stroke="#000" stroke-width="1.8"/>
<rect x="242.40" y="655.20" width="17.2" height="7.8" fill="#000"/>
<text x="269.80" y="646.40" font-size="13.6" font-weight="normal" text-anchor="start" font-family="'Liberation Serif', 'Times New Roman', serif" fill="#000" >Control</text>
<text x="269.80" y="663.50" font-size="13.4" font-weight="normal" text-anchor="start" font-family="'Liberation Serif', 'Times New Roman', serif" fill="#000" >Triptonide</text>
<line x1="419.50" y1="658.75" x2="419.50" y2="822.30" stroke="#000" stroke-width="1.5" />
<line x1="412.70" y1="821.60" x2="419.50" y2="821.60" stroke="#000" stroke-width="1.5" />
<text x="410.70" y="826.80" font-size="13.5" font-weight="bold" text-anchor="end" font-family="'Liberation Serif', 'Times New Roman', serif" fill="#000" >0.0</text>
<line x1="412.70" y1="767.55" x2="419.50" y2="767.55" stroke="#000" stroke-width="1.5" />
<text x="410.70" y="772.75" font-size="13.5" font-weight="bold" text-anchor="end" font-family="'Liberation Serif', 'Times New Roman', serif" fill="#000" >0.5</text>
<line x1="412.70" y1="713.50" x2="419.50" y2="713.50" stroke="#000" stroke-width="1.5" />
<text x="410.70" y="718.70" font-size="13.5" font-weight="bold" text-anchor="end" font-family="'Liberation Serif', 'Times New Roman', serif" fill="#000" >1.0</text>
<line x1="412.70" y1="659.45" x2="419.50" y2="659.45" stroke="#000" stroke-width="1.5" />
<text x="410.70" y="664.65" font-size="13.5" font-weight="bold" text-anchor="end" font-family="'Liberation Serif', 'Times New Roman', serif" fill="#000" >1.5</text>
<text x="0.00" y="0.00" font-size="15.4" font-weight="bold" text-anchor="middle" font-family="'Liberation Serif', 'Times New Roman', serif" fill="#000" transform="translate(384.40,740.00) rotate(-90)">Relative mRNA level</text>
<line x1="426.20" y1="706.37" x2="426.20" y2="713.50" stroke="#000" stroke-width="1.6" />
<line x1="424.20" y1="706.37" x2="428.20" y2="706.37" stroke="#000" stroke-width="1.8" />
<rect x="424.10" y="714.70" width="4.20" height="106.90" fill="#fff" stroke="#000" stroke-width="2.0"/>
<line x1="436.10" y1="710.26" x2="436.10" y2="713.50" stroke="#000" stroke-width="1.6" />
<line x1="434.10" y1="710.26" x2="438.10" y2="710.26" stroke="#000" stroke-width="1.8" />
<rect x="433.00" y="713.50" width="6.20" height="108.10" fill="#000"/>
<line x1="430.70" y1="821.60" x2="430.70" y2="828.40" stroke="#000" stroke-width="1.5" />
<line x1="452.30" y1="705.39" x2="452.30" y2="713.50" stroke="#000" stroke-width="1.6" />
<line x1="450.30" y1="705.39" x2="454.30" y2="705.39" stroke="#000" stroke-width="1.8" />
<rect x="450.20" y="714.70" width="4.20" height="106.90" fill="#fff" stroke="#000" stroke-width="2.0"/>
<line x1="462.20" y1="716.42" x2="462.20" y2="725.50" stroke="#000" stroke-width="1.6" />
<line x1="460.20" y1="716.42" x2="464.20" y2="716.42" stroke="#000" stroke-width="1.8" />
<rect x="459.10" y="725.50" width="6.20" height="96.10" fill="#000"/>
<line x1="456.80" y1="821.60" x2="456.80" y2="828.40" stroke="#000" stroke-width="1.5" />
<line x1="478.40" y1="705.39" x2="478.40" y2="713.50" stroke="#000" stroke-width="1.6" />
<line x1="476.40" y1="705.39" x2="480.40" y2="705.39" stroke="#000" stroke-width="1.8" />
<rect x="476.30" y="714.70" width="4.20" height="106.90" fill="#fff" stroke="#000" stroke-width="2.0"/>
<line x1="488.30" y1="695.34" x2="488.30" y2="708.96" stroke="#000" stroke-width="1.6" />
<line x1="486.30" y1="695.34" x2="490.30" y2="695.34" stroke="#000" stroke-width="1.8" />
<rect x="485.20" y="708.96" width="6.20" height="112.64" fill="#000"/>
<line x1="482.90" y1="821.60" x2="482.90" y2="828.40" stroke="#000" stroke-width="1.5" />
<line x1="504.50" y1="709.39" x2="504.50" y2="713.50" stroke="#000" stroke-width="1.6" />
<line x1="502.50" y1="709.39" x2="506.50" y2="709.39" stroke="#000" stroke-width="1.8" />
<rect x="502.40" y="714.70" width="4.20" height="106.90" fill="#fff" stroke="#000" stroke-width="2.0"/>
<line x1="514.40" y1="704.10" x2="514.40" y2="715.55" stroke="#000" stroke-width="1.6" />
<line x1="512.40" y1="704.10" x2="516.40" y2="704.10" stroke="#000" stroke-width="1.8" />
<rect x="511.30" y="715.55" width="6.20" height="106.05" fill="#000"/>
<line x1="509.00" y1="821.60" x2="509.00" y2="828.40" stroke="#000" stroke-width="1.5" />
<line x1="530.60" y1="701.28" x2="530.60" y2="713.50" stroke="#000" stroke-width="1.6" />
<line x1="528.60" y1="701.28" x2="532.60" y2="701.28" stroke="#000" stroke-width="1.8" />
<rect x="528.50" y="714.70" width="4.20" height="106.90" fill="#fff" stroke="#000" stroke-width="2.0"/>
<line x1="540.50" y1="749.82" x2="540.50" y2="759.01" stroke="#000" stroke-width="1.6" />
<line x1="538.50" y1="749.82" x2="542.50" y2="749.82" stroke="#000" stroke-width="1.8" />
<rect x="537.40" y="759.01" width="6.20" height="62.59" fill="#000"/>
<line x1="535.10" y1="821.60" x2="535.10" y2="828.40" stroke="#000" stroke-width="1.5" />
<line x1="556.70" y1="704.96" x2="556.70" y2="713.50" stroke="#000" stroke-width="1.6" />
<line x1="554.70" y1="704.96" x2="558.70" y2="704.96" stroke="#000" stroke-width="1.8" />
<rect x="554.60" y="714.70" width="4.20" height="106.90" fill="#fff" stroke="#000" stroke-width="2.0"/>
<line x1="566.60" y1="720.20" x2="566.60" y2="726.04" stroke="#000" stroke-width="1.6" />
<line x1="564.60" y1="720.20" x2="568.60" y2="720.20" stroke="#000" stroke-width="1.8" />
<rect x="563.50" y="726.04" width="6.20" height="95.56" fill="#000"/>
<line x1="561.20" y1="821.60" x2="561.20" y2="828.40" stroke="#000" stroke-width="1.5" />
<line x1="582.80" y1="704.64" x2="582.80" y2="713.50" stroke="#000" stroke-width="1.6" />
<line x1="580.80" y1="704.64" x2="584.80" y2="704.64" stroke="#000" stroke-width="1.8" />
<rect x="580.70" y="714.70" width="4.20" height="106.90" fill="#fff" stroke="#000" stroke-width="2.0"/>
<line x1="592.70" y1="703.23" x2="592.70" y2="714.58" stroke="#000" stroke-width="1.6" />
<line x1="590.70" y1="703.23" x2="594.70" y2="703.23" stroke="#000" stroke-width="1.8" />
<rect x="589.60" y="714.58" width="6.20" height="107.02" fill="#000"/>
<line x1="587.30" y1="821.60" x2="587.30" y2="828.40" stroke="#000" stroke-width="1.5" />
<line x1="608.90" y1="706.80" x2="608.90" y2="713.50" stroke="#000" stroke-width="1.6" />
<line x1="606.90" y1="706.80" x2="610.90" y2="706.80" stroke="#000" stroke-width="1.8" />
<rect x="606.80" y="714.70" width="4.20" height="106.90" fill="#fff" stroke="#000" stroke-width="2.0"/>
<line x1="618.80" y1="771.33" x2="618.80" y2="781.17" stroke="#000" stroke-width="1.6" />
<line x1="616.80" y1="771.33" x2="620.80" y2="771.33" stroke="#000" stroke-width="1.8" />
<rect x="615.70" y="781.17" width="6.20" height="40.43" fill="#000"/>
<line x1="613.40" y1="821.60" x2="613.40" y2="828.40" stroke="#000" stroke-width="1.5" />
<line x1="635.00" y1="702.47" x2="635.00" y2="713.50" stroke="#000" stroke-width="1.6" />
<line x1="633.00" y1="702.47" x2="637.00" y2="702.47" stroke="#000" stroke-width="1.8" />
<rect x="632.90" y="714.70" width="4.20" height="106.90" fill="#fff" stroke="#000" stroke-width="2.0"/>
<line x1="644.90" y1="714.69" x2="644.90" y2="721.39" stroke="#000" stroke-width="1.6" />
<line x1="642.90" y1="714.69" x2="646.90" y2="714.69" stroke="#000" stroke-width="1.8" />
<rect x="641.80" y="721.39" width="6.20" height="100.21" fill="#000"/>
<line x1="639.50" y1="821.60" x2="639.50" y2="828.40" stroke="#000" stroke-width="1.5" />
<line x1="661.10" y1="706.37" x2="661.10" y2="713.50" stroke="#000" stroke-width="1.6" />
<line x1="659.10" y1="706.37" x2="663.10" y2="706.37" stroke="#000" stroke-width="1.8" />
<rect x="659.00" y="714.70" width="4.20" height="106.90" fill="#fff" stroke="#000" stroke-width="2.0"/>
<line x1="671.00" y1="720.09" x2="671.00" y2="729.72" stroke="#000" stroke-width="1.6" />
<line x1="669.00" y1="720.09" x2="673.00" y2="720.09" stroke="#000" stroke-width="1.8" />
<rect x="667.90" y="729.72" width="6.20" height="91.88" fill="#000"/>
<line x1="665.60" y1="821.60" x2="665.60" y2="828.40" stroke="#000" stroke-width="1.5" />
<line x1="418.80" y1="821.60" x2="679.70" y2="821.60" stroke="#000" stroke-width="1.5" />
<text x="0.00" y="0.00" font-size="13.6" font-weight="bold" text-anchor="end" font-family="'Liberation Serif', 'Times New Roman', serif" fill="#000" transform="translate(435.30,841.00) rotate(-45)">STEAP3</text>
<text x="0.00" y="0.00" font-size="13.6" font-weight="bold" text-anchor="end" font-family="'Liberation Serif', 'Times New Roman', serif" fill="#000" transform="translate(461.40,841.00) rotate(-45)">ACSL1</text>
<text x="0.00" y="0.00" font-size="13.6" font-weight="bold" text-anchor="end" font-family="'Liberation Serif', 'Times New Roman', serif" fill="#000" transform="translate(487.50,841.00) rotate(-45)">ACSL6</text>
<text x="0.00" y="0.00" font-size="13.6" font-weight="bold" text-anchor="end" font-family="'Liberation Serif', 'Times New Roman', serif" fill="#000" transform="translate(513.60,841.00) rotate(-45)">ATG7</text>
<text x="0.00" y="0.00" font-size="13.6" font-weight="bold" text-anchor="end" font-family="'Liberation Serif', 'Times New Roman', serif" fill="#000" transform="translate(539.70,841.00) rotate(-45)">GPX4</text>
<text x="0.00" y="0.00" font-size="13.6" font-weight="bold" text-anchor="end" font-family="'Liberation Serif', 'Times New Roman', serif" fill="#000" transform="translate(565.80,841.00) rotate(-45)">SLC3A2</text>
<text x="0.00" y="0.00" font-size="13.6" font-weight="bold" text-anchor="end" font-family="'Liberation Serif', 'Times New Roman', serif" fill="#000" transform="translate(591.90,841.00) rotate(-45)">SLC40A1</text>
<text x="0.00" y="0.00" font-size="13.6" font-weight="bold" text-anchor="end" font-family="'Liberation Serif', 'Times New Roman', serif" fill="#000" transform="translate(618.00,841.00) rotate(-45)">SLC7A11</text>
<text x="0.00" y="0.00" font-size="13.6" font-weight="bold" text-anchor="end" font-family="'Liberation Serif', 'Times New Roman', serif" fill="#000" transform="translate(644.10,841.00) rotate(-45)">TFRC</text>
<text x="0.00" y="0.00" font-size="13.6" font-weight="bold" text-anchor="end" font-family="'Liberation Serif', 'Times New Roman', serif" fill="#000" transform="translate(670.20,841.00) rotate(-45)">VDAC3</text>
<text x="0.00" y="0.00" font-size="15" font-weight="normal" text-anchor="start" font-family="'Liberation Sans', Arial, sans-serif" fill="#1a1a1a" letter-spacing="2.05" transform="translate(547.10,747.32) rotate(-90)">**</text>
<text x="0.00" y="0.00" font-size="15" font-weight="normal" text-anchor="start" font-family="'Liberation Sans', Arial, sans-serif" fill="#1a1a1a" letter-spacing="2.05" transform="translate(625.40,768.83) rotate(-90)">***</text>
<text x="549.80" y="636.70" font-size="15.5" font-weight="bold" text-anchor="middle" font-family="'Liberation Serif', 'Times New Roman', serif" fill="#000" >LoVo</text>
<rect x="602.30" y="640.20" width="15.4" height="5.7" fill="#fff" stroke="#000" stroke-width="1.8"/>
<rect x="601.40" y="656.50" width="17.2" height="7.8" fill="#000"/>
<text x="628.80" y="647.70" font-size="13.6" font-weight="normal" text-anchor="start" font-family="'Liberation Serif', 'Times New Roman', serif" fill="#000" >Control</text>
<text x="628.80" y="664.80" font-size="13.4" font-weight="normal" text-anchor="start" font-family="'Liberation Serif', 'Times New Roman', serif" fill="#000" >Triptonide</text>
</svg></body></html>
